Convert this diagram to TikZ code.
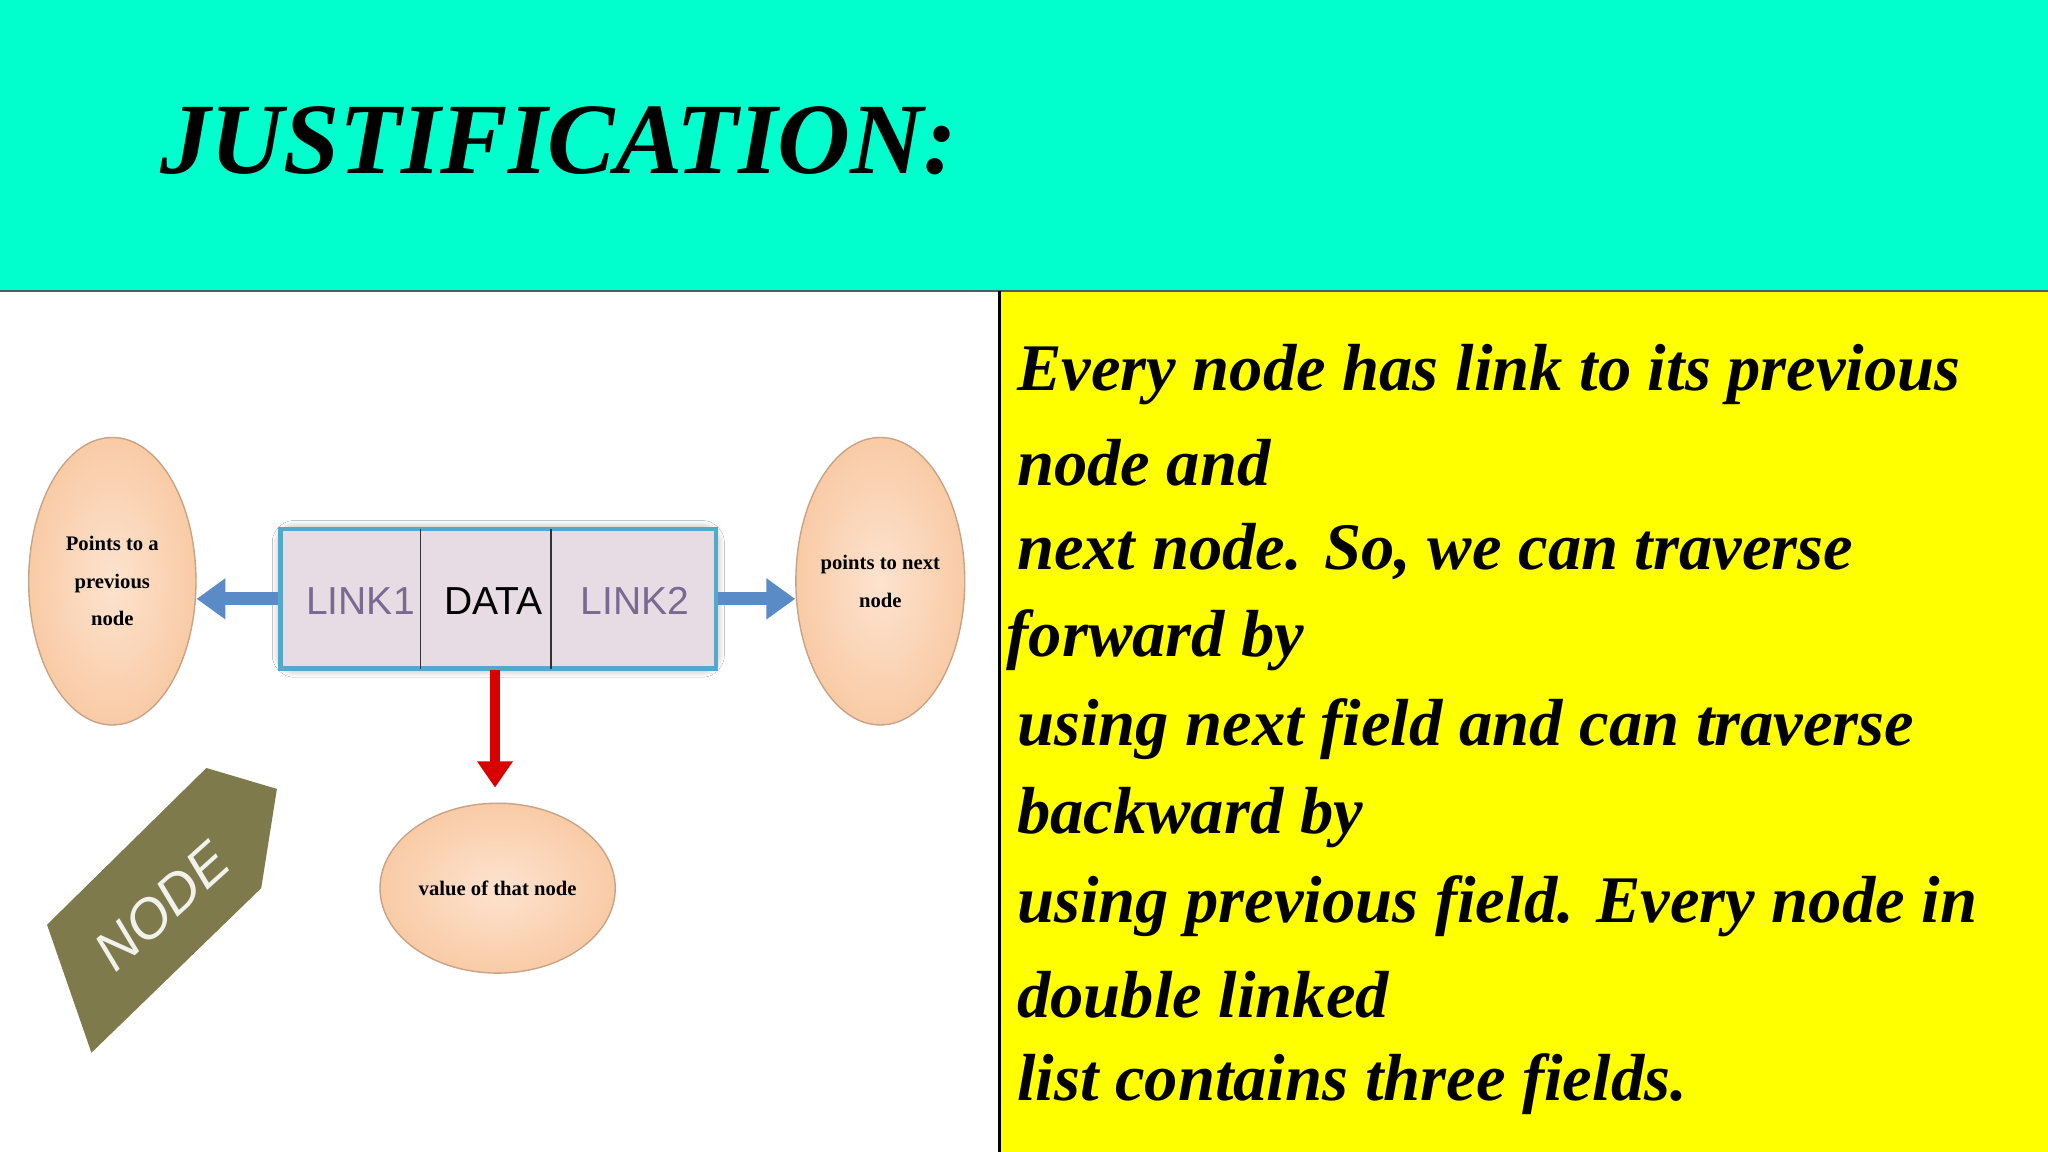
\documentclass[tikz,border=0pt]{standalone}
\usepackage{fontspec}
\setmainfont{Liberation Serif}
\newfontfamily\sansf{Liberation Sans}
\usetikzlibrary{shapes.geometric,arrows.meta,shadows.blur}
\definecolor{cyanbg}{HTML}{00FFCC}
\definecolor{yel}{HTML}{FFFF00}
\definecolor{peach}{HTML}{F9CBA6}
\definecolor{peachl}{HTML}{FDE3CF}
\definecolor{boxfill}{HTML}{E8DCE4}
\definecolor{linkc}{HTML}{7A6A92}
\definecolor{olive}{HTML}{7E7A4C}
\definecolor{bluea}{HTML}{5B8BC7}
\tikzset{
 oval/.style={ellipse,inner color=peachl,outer color=peach,draw=peach!80!black,line width=0.3pt,font=\fontsize{4.5}{5.2}\selectfont\bfseries,align=center,inner sep=0pt},
 cell/.style={inner sep=0pt,font=\sansf\fontsize{8.5}{10}\selectfont},
 barrow/.style={-{Triangle[length=0.22cm,width=0.3cm]},line width=0.1cm,draw=bluea},
 txt/.style={font=\fontsize{14.5}{17}\selectfont\bfseries\itshape,anchor=west,inner sep=0pt}
}
\begin{document}
\begin{tikzpicture}[x=0.01cm,y=-0.01cm]
\useasboundingbox (0,0) rectangle (1568,882);
\fill[cyanbg] (0,0) rectangle (1568,223);
\fill[white] (0,223) rectangle (765,882);
\fill[yel] (765,223) rectangle (1568,882);
\draw[gray!70!black,line width=0.4pt] (0,223) -- (1568,223);
\draw[black,line width=0.6pt] (765,223) -- (765,882);
\node[font=\fontsize{22}{25}\selectfont\bfseries\itshape,anchor=west,inner sep=0pt] (title) at (122,108) {JUSTIFICATION:};
% text
\node[txt] (l1) at (778,287) {Every node has link to its previous};
\node[txt] (l2) at (778,354) {node and};
\node[txt] (l3) at (778,422) {next node. So, we can traverse};
\node[txt] (l4) at (770,490) {forward by};
\node[txt] (l5) at (778,558) {using next field and can traverse};
\node[txt] (l6) at (778,626) {backward by};
\node[txt] (l7) at (778,694) {using previous field. Every node in};
\node[txt] (l8) at (778,762) {double linked};
\node[txt] (l9) at (778,830) {list contains three fields.};
% diagram
\node[oval,minimum width=1.28cm,minimum height=2.2cm] (prev) at (86,445) {Points to a\\[3pt]previous\\[3pt]node};
\node[oval,minimum width=1.28cm,minimum height=2.2cm] (next) at (674,445) {points to next\\[3pt]node};
\node[oval,minimum width=1.8cm,minimum height=1.3cm] (val) at (381,680) {value of that node};
\node[draw=cyan!60!gray,line width=1pt,fill=boxfill,minimum width=3.33cm,minimum height=1.07cm,inner sep=0pt,blur shadow={shadow blur steps=8,shadow xshift=0pt,shadow yshift=0pt,shadow blur extra rounding=3pt}] (box) at (381.5,458.5) {};
\node[cell,text=linkc] (link1) at (276,460) {LINK1};
\node[cell,text=black] (data) at (378,460) {DATA};
\node[cell,text=linkc] (link2) at (486,460) {LINK2};
\draw[black!80] (322,405) -- (322,512) (422,405) -- (422,512);
\coordinate (rs) at (379,513);
\coordinate (re) at (379,603);
\draw[barrow] (box.west) -- (box.west -| prev.east);
\draw[barrow] (box.east) -- (box.east -| next.west);
\draw[-{Triangle[length=0.2cm,width=0.26cm]},line width=0.07cm,draw=red!85!black] (rs) -- (re);
\fill[olive] (36,708) -- (158,588) -- (212,604) -- (200,680) -- (70,806) -- cycle;
\node[rotate=42,text=white!90!olive,font=\sansf\itshape\fontsize{12}{14}\selectfont] (tag) at (124,694) {NODE};
\end{tikzpicture}
\end{document}
